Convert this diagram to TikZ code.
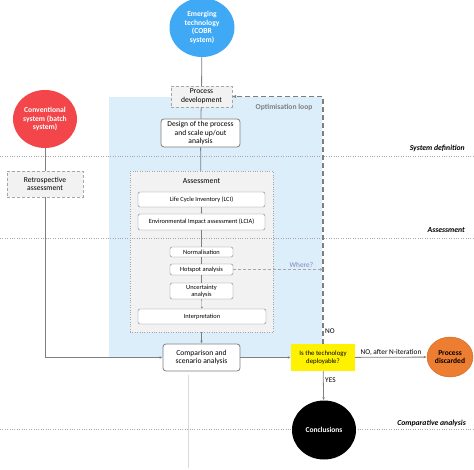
\documentclass[tikz,border=0pt]{standalone}
\usepackage{fontspec}
\setmainfont{Carlito}
\usetikzlibrary{shapes.geometric,arrows.meta,positioning}
\definecolor{emerg}{HTML}{3FA9F5}
\definecolor{conv}{HTML}{F2464B}
\definecolor{discard}{HTML}{ED7D31}
\definecolor{loopbg}{HTML}{DDEEFB}
\definecolor{boxbg}{HTML}{F2F2F2}
\definecolor{edge}{HTML}{7F7F7F}
\definecolor{rim}{HTML}{A6A6A6}
\tikzset{
circ/.style={ellipse, inner sep=0pt, align=center, font=\fontsize{7.6}{8.4}\selectfont\bfseries},
dbox/.style={draw=rim, densely dashed, fill=boxbg, inner sep=0pt, align=center, font=\fontsize{7.6}{8.8}\selectfont},
rbox/.style={draw=edge, thick, fill=white, rounded corners=3pt, inner sep=0pt, align=center, font=\fontsize{7.6}{8.6}\selectfont},
sbox/.style={draw=edge, fill=white, rounded corners=2pt, inner sep=0pt, align=center, font=\fontsize{6.4}{7}\selectfont},
link/.style={draw=edge, thick},
conn/.style={draw=edge, thick, -{Latex[length=3pt,width=2.6pt]}},
tiny/.style={draw=edge, -{Latex[length=2pt,width=2pt]}},
loopline/.style={draw=edge, line width=1.2pt, dash pattern=on 5pt off 3pt, -{Latex[length=4pt,width=3.5pt]}},
whereline/.style={draw=rim, densely dashed, -{Latex[length=3pt,width=2.6pt]}},
dotline/.style={draw=rim, line width=0.6pt, dash pattern=on 1pt off 1.4pt},
zone/.style={font=\fontsize{7.7}{9}\selectfont\bfseries\itshape, inner sep=0pt},
note/.style={font=\fontsize{7.3}{8}\selectfont, inner sep=1.5pt},
}

\begin{document}
\begin{tikzpicture}[x=1pt,y=-1pt]
\useasboundingbox (0,0) rectangle (474,470);
\fill[loopbg] (109,97) rectangle (322,357);
\draw[black!15] (188,375) -- (188,468);

\node[circ, fill=emerg, text=white, minimum width=65pt, minimum height=59pt] (emerging) at (202,27.5) {Emerging\\technology\\(COBR\\system)};
\node[circ, fill=conv, text=white, minimum width=64pt, minimum height=58pt] (conv) at (45,119) {Conventional\\system (batch\\system)};

\node[dbox, minimum width=61pt, minimum height=21pt] (procdev) at (201.5,96.5) {Process\\development};
\node[rbox, minimum width=79pt, minimum height=28pt] (design) at (200.5,133) {Design of the process\\and scale up/out\\analysis};
\node[dbox, minimum width=76pt, minimum height=26pt] (retro) at (45,184) {Retrospective\\assessment};

\node[draw=rim, dotted, fill=boxbg, minimum width=143pt, minimum height=161pt] (assess) at (201.5,251.5) {};
\node[font=\fontsize{7.8}{9}\selectfont] (assesstitle) at (201.5,181) {Assessment};
\node[sbox, minimum width=127pt, minimum height=15pt] (lci) at (201.5,199.5) {Life Cycle Inventory (LCI)};
\node[sbox, minimum width=127pt, minimum height=16pt] (lcia) at (201.5,222) {Environmental Impact assessment (LCIA)};
\node[sbox, minimum width=63pt, minimum height=10pt] (norm) at (201.5,252) {Normalisation};
\node[sbox, minimum width=63pt, minimum height=11pt] (hot) at (201.5,269.5) {Hotspot analysis};
\node[sbox, minimum width=63pt, minimum height=16pt] (unc) at (201.5,291) {Uncertainty\\analysis};
\node[sbox, minimum width=128pt, minimum height=15pt] (interp) at (202,316.5) {Interpretation};

\draw[dotline] (0,156) -- (474,156);
\draw[dotline] (0,238) -- (474,238);
\draw[dotline] (0,429) -- (474,429);
\node[zone, anchor=base east] (sysdef) at (465,151) {System definition};
\node[zone, anchor=base east] (assessment) at (465,233) {Assessment};
\node[zone, anchor=base east] (comparative) at (466,425) {Comparative analysis};
\node[font=\fontsize{7.6}{9}\selectfont\bfseries, text=edge, anchor=base east] (optloop) at (316,109.5) {Optimisation loop};

\node[rbox, minimum width=77pt, minimum height=27pt] (compare) at (201.5,357.5) {Comparison and\\scenario analysis};
\node[fill=yellow, inner sep=0pt, align=center, minimum width=64pt, minimum height=27pt, font=\fontsize{6.8}{8}\selectfont] (deploy) at (323,357.5) {Is the technology\\deployable?};
\node[circ, fill=discard, draw=discard!85!black, minimum width=46pt, minimum height=40pt, font=\fontsize{7.5}{8.6}\selectfont\bfseries] (discard) at (450,357) {Process\\discarded};
\node[circ, fill=black, text=white, minimum width=64pt, minimum height=59pt, font=\fontsize{7.5}{8.6}\selectfont\bfseries] (concl) at (324,430) {Conclusions};

\coordinate (lc) at (deploy.north |- procdev.east);

\draw[link] (emerging) -- (procdev);
\draw[link] (procdev) -- (design);
\draw[link] (design) -- (assess);
\draw[tiny] (lci) -- (lcia);
\draw[draw=edge] (lcia) -- (norm);
\draw[draw=edge] (norm) -- (hot);
\draw[draw=edge] (hot) -- (unc);
\draw[tiny] (unc) -- (interp);
\draw[conn] (assess) -- (compare);
\draw[link] (conv) -- (retro);
\draw[conn] (retro) |- (compare);
\draw[conn] (compare) -- (deploy);
\draw[conn] (deploy) -- node[note, above] (noafter) {NO, after N-iteration} (discard);
\draw[conn] (deploy) -- node[note, right, pos=0.3] (yes) {YES} (concl);
\draw[loopline] (deploy) -- node[note, right, pos=0.05] (no) {NO} (lc) -- (procdev);
\draw[whereline] (hot) -- node[note, above, pos=0.76, text=rim!80!blue] (where) {Where?} (hot -| lc);
\end{tikzpicture}
\end{document}
